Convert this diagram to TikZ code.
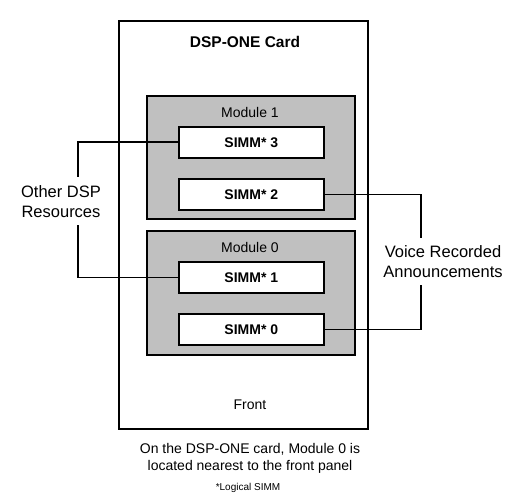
\documentclass[tikz,border=0pt]{standalone}
\usepackage{fontspec}
\setmainfont{Liberation Sans}
\begin{document}
\begin{tikzpicture}[x=1bp,y=-1bp,
  line/.style={line width=1.6bp, black},
  cardbox/.style={draw=black, line width=1.8bp, fill=white, anchor=north west, inner sep=0pt},
  modbox/.style={draw=black, line width=1.6bp, fill=modgray, anchor=north west, inner sep=0pt, minimum width=208bp},
  simmbox/.style={draw=black, line width=1.6bp, fill=white, anchor=north west, inner sep=0pt, minimum width=145bp, minimum height=31bp, font=\fontsize{14bp}{16bp}\selectfont\bfseries},
  lbl/.style={font=\fontsize{16.5bp}{20bp}\selectfont, align=center, inner sep=0pt},
  small/.style={font=\fontsize{14bp}{17bp}\selectfont, align=center, inner sep=0pt}
]
\definecolor{modgray}{HTML}{C0C0C0}
\useasboundingbox (0,0) rectangle (518,498);
\fill[white] (0,0) rectangle (518,498);

\node[cardbox, minimum width=249bp, minimum height=408bp] (card) at (118,20) {};
\node[font=\fontsize{15.5bp}{18bp}\selectfont\bfseries, inner sep=0pt] (title) at (245,42) {DSP-ONE Card};

\node[modbox, minimum height=123bp] (mod1) at (146,95) {};
\node[modbox, minimum height=124bp] (mod0) at (146,230) {};
\node[small] (m1lbl) at (250,112) {Module 1};
\node[small] (m0lbl) at (250,247) {Module 0};

\node[simmbox] (s3) at (178,126) {SIMM* 3};
\node[simmbox] (s2) at (178,178) {SIMM* 2};
\node[simmbox] (s1) at (178,261) {SIMM* 1};
\node[simmbox] (s0) at (178,313) {SIMM* 0};

\node[small] (front) at (250,405) {Front};

\node[lbl] (other) at (61,202) {Other DSP\\Resources};
\node[lbl] (voice) at (443,262) {Voice Recorded\\Announcements};

\coordinate (oa) at (78,177);
\coordinate (ob) at (78,225);
\coordinate (va) at (421,238);
\coordinate (vb) at (421,285);

\draw[line] (s3.west) -| (oa);
\draw[line] (ob) |- (s1.west);
\draw[line] (s2.east) -| (va);
\draw[line] (vb) |- (s0.east);

\node[small] (caption) at (250,458) {On the DSP-ONE card, Module 0 is\\located nearest to the front panel};
\node[font=\fontsize{10bp}{12bp}\selectfont, inner sep=0pt] (note) at (248,488) {*Logical SIMM};
\end{tikzpicture}
\end{document}
